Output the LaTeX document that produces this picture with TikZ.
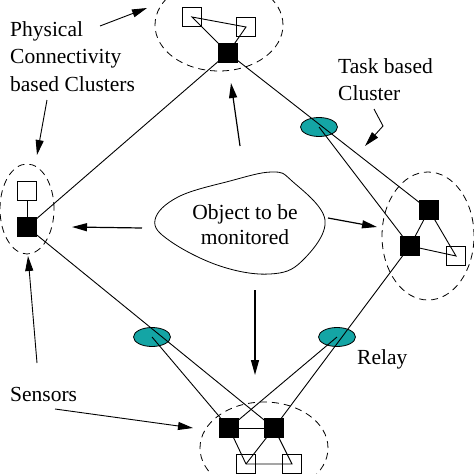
\documentclass[tikz,border=0pt]{standalone}
\usepackage{fontspec}
\setmainfont{Liberation Serif}
\usetikzlibrary{arrows.meta,shapes.geometric}
\definecolor{relayfill}{RGB}{20,165,165}

\begin{document}
\begin{tikzpicture}[
  x=1pt, y=-1pt,
  every node/.style={font=\fontsize{21.5}{27.5}\selectfont},
  sensor/.style={draw, fill=black, minimum size=19pt, inner sep=0pt},
  hollow/.style={draw, minimum size=19pt, inner sep=0pt},
  relay/.style={ellipse, draw, line width=0.8pt, fill=relayfill, minimum width=37pt, minimum height=19pt, inner sep=0pt},
  cluster/.style={ellipse, draw, line width=0.8pt, dash pattern=on 7pt off 5pt, inner sep=0pt},
  caption/.style={inner sep=0pt, align=left, anchor=north west},
  link/.style={line width=0.9pt},
  pointer/.style={line width=1.2pt, -{Triangle[length=15pt,width=8pt]}}
]
  \useasboundingbox (0,0) rectangle (474,474);
  \clip (0,0) rectangle (474,474);

  \node[cluster, minimum width=128pt, minimum height=92pt] (ctop) at (219,25) {};
  \node[cluster, minimum width=54pt, minimum height=90pt] (cleft) at (27,209) {};
  \node[cluster, minimum width=92pt, minimum height=128pt] (cright) at (428,236) {};
  \node[cluster, minimum width=128pt, minimum height=92pt] (cbot) at (264,448) {};

  \node[relay] (r1) at (319,127) {};
  \node[relay] (r2) at (152,337) {};
  \node[relay] (r3) at (337,337) {};

  \node[sensor] (tb) at (228,53) {};
  \node[hollow] (th1) at (192,17) {};
  \node[hollow] (th2) at (246,27) {};
  \node[sensor] (lb) at (27,227) {};
  \node[hollow] (lh) at (27,191) {};
  \node[sensor] (rb1) at (429,210) {};
  \node[sensor] (rb2) at (410,246) {};
  \node[hollow] (rh) at (456,256) {};
  \node[sensor] (bb1) at (229,428) {};
  \node[sensor] (bb2) at (274,428) {};
  \node[hollow] (bh1) at (246,464) {};
  \node[hollow] (bh2) at (292,464) {};

  \draw[link] (tb) -- (th1.center) -- (th2.center) -- (tb);
  \draw[link] (lb) -- (lh);
  \draw[link] (rb1) -- (rb2) -- (rh.center) -- (rb1);
  \draw[link] (bb1) -- (bb2);
  \draw[link] (bb1) -- (bh1.center) -- (bh2.center) -- (bb2);
  \draw[link] (bb2) -- (bh1.center);

  \draw[link] (tb) -- (lb);
  \draw[link] (tb) -- (rb1);
  \draw[link] (r1.center) -- (rb2);
  \draw[link] (lb) -- (bb2);
  \draw[link] (r2.center) -- (bb1);
  \draw[link] (rb2) -- (bb2);
  \draw[link] (r3.center) -- (bb1);

  \draw[line width=0.8pt, fill=white] plot[smooth cycle, tension=0.65] coordinates
    {(155,220) (178,197) (230,181) (272,172) (292,181) (325,220) (302,261) (270,274) (220,266) (170,241)};
  \node[align=center, inner sep=0pt, anchor=north, font=\fontsize{21.5}{25.5}\selectfont] (obj) at (245,204) {Object to be\\monitored};

  \coordinate (upT) at (240,146);  \coordinate (upH) at (231,83);
  \coordinate (ltT) at (142,228);  \coordinate (ltH) at (72,227);
  \coordinate (rtT) at (328,218);  \coordinate (rtH) at (377,227);
  \coordinate (dnT) at (255,290);  \coordinate (dnH) at (255,375);
  \draw[pointer] (upT) -- (upH);
  \draw[pointer] (ltT) -- (ltH);
  \draw[pointer] (rtT) -- (rtH);
  \draw[pointer] (dnT) -- (dnH);

  \node[caption] (phys) at (10,21) {Physical\\Connectivity\\based Clusters};
  \node[caption] (task) at (338,58) {Task based\\Cluster};
  \node[inner sep=0pt, anchor=base west] (sens) at (10,401) {Sensors};
  \node[inner sep=0pt, anchor=base west] (rly) at (357,364) {Relay};

  \coordinate (p1T) at (100,26);  \coordinate (p1H) at (147,8);
  \coordinate (p2T) at (47,100);  \coordinate (p2H) at (37,155);
  \coordinate (tkT) at (374,109); \coordinate (tkB) at (383,126); \coordinate (tkH) at (365,146);
  \coordinate (s1T) at (55,409);  \coordinate (s1H) at (193,428);
  \coordinate (s2T) at (37,363);  \coordinate (s2H) at (28,256);
  \draw[pointer, line width=0.9pt] (p1T) -- (p1H);
  \draw[pointer, line width=0.9pt] (p2T) -- (p2H);
  \draw[pointer, line width=0.9pt] (tkT) -- (tkB) -- (tkH);
  \draw[pointer, line width=0.9pt] (s1T) -- (s1H);
  \draw[pointer, line width=0.9pt] (s2T) -- (s2H);
\end{tikzpicture}
\end{document}
